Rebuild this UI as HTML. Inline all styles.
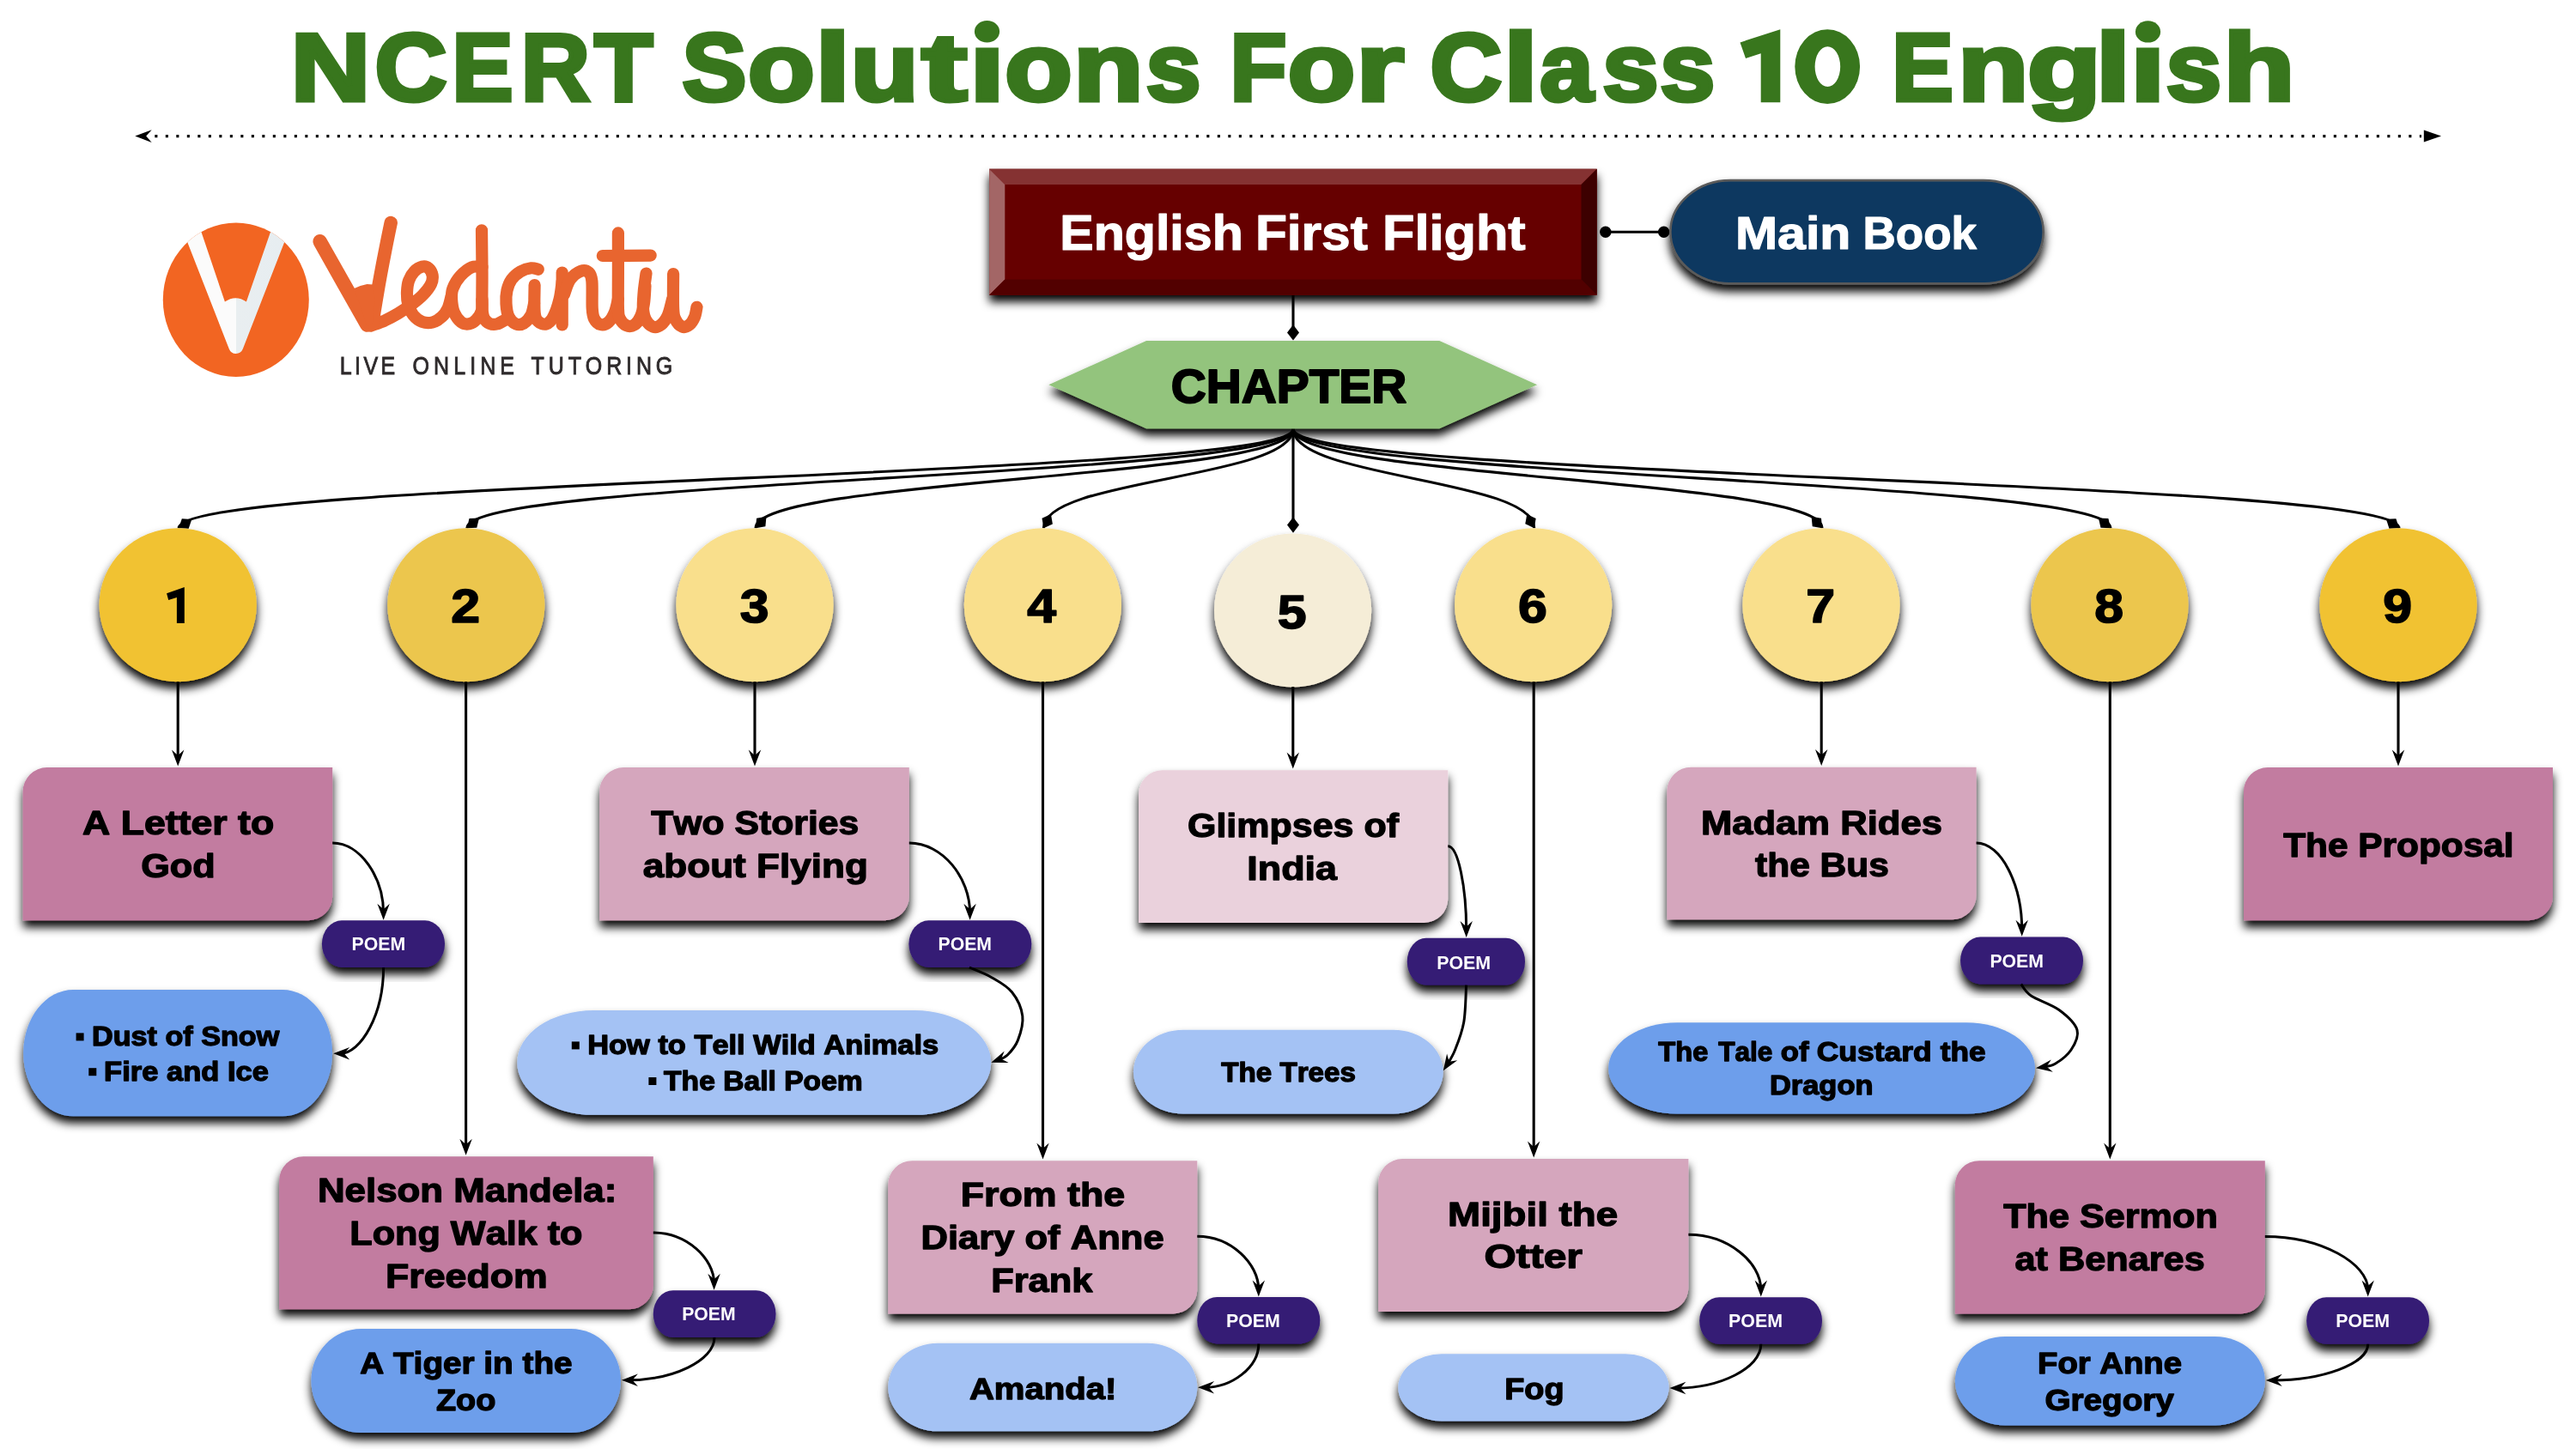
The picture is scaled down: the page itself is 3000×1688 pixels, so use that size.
<!DOCTYPE html>
<html><head><meta charset="utf-8"><title>NCERT Solutions For Class 10 English</title>
<style>html,body{margin:0;padding:0;background:#fff;} body{width:3000px;height:1688px;overflow:hidden;} svg{display:block;} text{font-family:"Liberation Sans",sans-serif;font-kerning:none;opacity:0.999;}</style>
</head><body>
<svg width="3000" height="1688" viewBox="0 0 3000 1688">
<defs>
<filter id="sh" x="-20%" y="-20%" width="140%" height="150%"><feDropShadow dx="0" dy="8" stdDeviation="5.4" flood-color="#000" flood-opacity="0.98"/></filter>
<filter id="sh2" x="-20%" y="-20%" width="140%" height="160%"><feDropShadow dx="0" dy="8" stdDeviation="5.5" flood-color="#000" flood-opacity="1"/></filter>
<clipPath id="logoclip"><ellipse cx="274.8" cy="349.2" rx="85" ry="89.7"/></clipPath>
<linearGradient id="vg" x1="0" x2="1" y1="0" y2="0"><stop offset="0" stop-color="#fbfbfb"/><stop offset="0.5" stop-color="#fbfbfb"/><stop offset="0.5" stop-color="#e9eef0"/><stop offset="1" stop-color="#e6edf1"/></linearGradient>
</defs>
<rect width="3000" height="1688" fill="#fff"/>
<text x="338.84" y="117.1" font-size="111.9" font-weight="bold" fill="#38761d" textLength="92.38" lengthAdjust="spacingAndGlyphs" stroke="#38761d" stroke-width="5.0" stroke-linejoin="miter">N</text>
<text x="436.43" y="117.1" font-size="111.9" font-weight="bold" fill="#38761d" textLength="83.95" lengthAdjust="spacingAndGlyphs" stroke="#38761d" stroke-width="5.0" stroke-linejoin="miter">C</text>
<text x="526.48" y="117.1" font-size="111.9" font-weight="bold" fill="#38761d" textLength="70.97" lengthAdjust="spacingAndGlyphs" stroke="#38761d" stroke-width="5.0" stroke-linejoin="miter">E</text>
<text x="606.87" y="117.1" font-size="111.9" font-weight="bold" fill="#38761d" textLength="80.21" lengthAdjust="spacingAndGlyphs" stroke="#38761d" stroke-width="5.0" stroke-linejoin="miter">R</text>
<text x="692.15" y="117.1" font-size="111.9" font-weight="bold" fill="#38761d" textLength="68.05" lengthAdjust="spacingAndGlyphs" stroke="#38761d" stroke-width="5.0" stroke-linejoin="miter">T</text>
<text x="794.46" y="117.1" font-size="111.9" font-weight="bold" fill="#38761d" textLength="74.92" lengthAdjust="spacingAndGlyphs" stroke="#38761d" stroke-width="5.0" stroke-linejoin="miter">S</text>
<text x="871.03" y="117.1" font-size="111.9" font-weight="bold" fill="#38761d" textLength="77.74" lengthAdjust="spacingAndGlyphs" stroke="#38761d" stroke-width="5.0" stroke-linejoin="miter">o</text>
<text x="949.52" y="117.1" font-size="111.9" font-weight="bold" fill="#38761d" textLength="40.50" lengthAdjust="spacingAndGlyphs" stroke="#38761d" stroke-width="5.0" stroke-linejoin="miter">l</text>
<text x="990.79" y="117.1" font-size="111.9" font-weight="bold" fill="#38761d" textLength="78.93" lengthAdjust="spacingAndGlyphs" stroke="#38761d" stroke-width="5.0" stroke-linejoin="miter">u</text>
<text x="1073.47" y="117.1" font-size="111.9" font-weight="bold" fill="#38761d" textLength="52.66" lengthAdjust="spacingAndGlyphs" stroke="#38761d" stroke-width="5.0" stroke-linejoin="miter">t</text>
<text x="1129.28" y="117.1" font-size="111.9" font-weight="bold" fill="#38761d" textLength="40.50" lengthAdjust="spacingAndGlyphs" stroke="#38761d" stroke-width="5.0" stroke-linejoin="miter">ı</text>
<text x="1170.38" y="117.1" font-size="111.9" font-weight="bold" fill="#38761d" textLength="78.43" lengthAdjust="spacingAndGlyphs" stroke="#38761d" stroke-width="5.0" stroke-linejoin="miter">o</text>
<text x="1250.35" y="117.1" font-size="111.9" font-weight="bold" fill="#38761d" textLength="81.08" lengthAdjust="spacingAndGlyphs" stroke="#38761d" stroke-width="5.0" stroke-linejoin="miter">n</text>
<text x="1334.45" y="117.1" font-size="111.9" font-weight="bold" fill="#38761d" textLength="64.08" lengthAdjust="spacingAndGlyphs" stroke="#38761d" stroke-width="5.0" stroke-linejoin="miter">s</text>
<text x="1432.39" y="117.1" font-size="111.9" font-weight="bold" fill="#38761d" textLength="65.86" lengthAdjust="spacingAndGlyphs" stroke="#38761d" stroke-width="5.0" stroke-linejoin="miter">F</text>
<text x="1499.78" y="117.1" font-size="111.9" font-weight="bold" fill="#38761d" textLength="78.43" lengthAdjust="spacingAndGlyphs" stroke="#38761d" stroke-width="5.0" stroke-linejoin="miter">o</text>
<text x="1579.61" y="117.1" font-size="111.9" font-weight="bold" fill="#38761d" textLength="55.45" lengthAdjust="spacingAndGlyphs" stroke="#38761d" stroke-width="5.0" stroke-linejoin="miter">r</text>
<text x="1665.45" y="117.1" font-size="111.9" font-weight="bold" fill="#38761d" textLength="83.61" lengthAdjust="spacingAndGlyphs" stroke="#38761d" stroke-width="5.0" stroke-linejoin="miter">C</text>
<text x="1751.28" y="117.1" font-size="111.9" font-weight="bold" fill="#38761d" textLength="39.49" lengthAdjust="spacingAndGlyphs" stroke="#38761d" stroke-width="5.0" stroke-linejoin="miter">l</text>
<text x="1793.22" y="117.1" font-size="111.9" font-weight="bold" fill="#38761d" textLength="62.27" lengthAdjust="spacingAndGlyphs" stroke="#38761d" stroke-width="5.0" stroke-linejoin="miter">a</text>
<text x="1866.27" y="117.1" font-size="111.9" font-weight="bold" fill="#38761d" textLength="65.35" lengthAdjust="spacingAndGlyphs" stroke="#38761d" stroke-width="5.0" stroke-linejoin="miter">s</text>
<text x="1933.25" y="117.1" font-size="111.9" font-weight="bold" fill="#38761d" textLength="64.08" lengthAdjust="spacingAndGlyphs" stroke="#38761d" stroke-width="5.0" stroke-linejoin="miter">s</text>
<text x="2203.22" y="117.1" font-size="111.9" font-weight="bold" fill="#38761d" textLength="71.57" lengthAdjust="spacingAndGlyphs" stroke="#38761d" stroke-width="5.0" stroke-linejoin="miter">E</text>
<text x="2280.35" y="117.1" font-size="111.9" font-weight="bold" fill="#38761d" textLength="81.97" lengthAdjust="spacingAndGlyphs" stroke="#38761d" stroke-width="5.0" stroke-linejoin="miter">n</text>
<text x="2361.03" y="117.1" font-size="111.9" font-weight="bold" fill="#38761d" textLength="85.87" lengthAdjust="spacingAndGlyphs" stroke="#38761d" stroke-width="5.0" stroke-linejoin="miter">g</text>
<text x="2440.87" y="117.1" font-size="111.9" font-weight="bold" fill="#38761d" textLength="40.30" lengthAdjust="spacingAndGlyphs" stroke="#38761d" stroke-width="5.0" stroke-linejoin="miter">l</text>
<text x="2481.13" y="117.1" font-size="111.9" font-weight="bold" fill="#38761d" textLength="40.30" lengthAdjust="spacingAndGlyphs" stroke="#38761d" stroke-width="5.0" stroke-linejoin="miter">ı</text>
<text x="2522.61" y="117.1" font-size="111.9" font-weight="bold" fill="#38761d" textLength="64.66" lengthAdjust="spacingAndGlyphs" stroke="#38761d" stroke-width="5.0" stroke-linejoin="miter">s</text>
<text x="2589.64" y="117.1" font-size="111.9" font-weight="bold" fill="#38761d" textLength="82.76" lengthAdjust="spacingAndGlyphs" stroke="#38761d" stroke-width="5.0" stroke-linejoin="miter">h</text>
<ellipse cx="1149.5" cy="36.7" rx="14.6" ry="12.7" fill="#38761d"/><ellipse cx="2501.5" cy="36.9" rx="14.6" ry="12.7" fill="#38761d"/>
<polygon points="2073.3,34.2 2073.3,119.2 2050.7,119.2 2050.7,62.2 2033,68 2026.5,49.4" fill="#38761d"/>
<path fill-rule="evenodd" fill="#38761d" d="M2090.3,77.6 a37.9,43.4 0 1 0 75.8,0 a37.9,43.4 0 1 0 -75.8,0 Z M2113.6,77.6 a14.8,23.4 0 1 0 29.6,0 a14.8,23.4 0 1 0 -29.6,0 Z"/>
<line x1="180.3" y1="158.6" x2="2820" y2="158.6" stroke="#000" stroke-width="3.1" stroke-dasharray="3.1 9.4"/>
<path d="M157.3,158.6 L176.7,151.3 L170.2,158.6 L176.7,165.9 Z" fill="#000"/>
<path d="M2843,158.6 L2822.8,151.6 L2822.8,165.6 Z" fill="#000"/>
<ellipse cx="274.8" cy="349.2" rx="85" ry="89.7" fill="#f26522"/>
<g clip-path="url(#logoclip)">
<path d="M202.2,241 L221,230.4 L261.9,351.6 Q274.5,343 286.9,351.6 L328.8,230.4 L346.9,241.8 L282.8,406.5 A8.6,8.6 0 0 1 266.8,406.4 Z" fill="url(#vg)"/>
</g>
<g fill="none" stroke="#e8652f" stroke-width="14.2" stroke-linecap="round" stroke-linejoin="round">
<path d="M431.6,379.6 C434.4,378.5 442.8,375.8 448.2,373.4 C453.5,370.9 458.5,368.2 463.7,365.1 C468.9,362.0 474.4,358.4 479.2,354.7 C484.1,351.1 488.9,347.3 492.7,343.3 C496.5,339.4 500.2,334.7 502.0,330.9 C503.8,327.1 504.1,323.7 503.6,320.6 C503.0,317.5 500.9,313.9 498.9,312.3 C496.9,310.6 494.4,310.0 491.6,310.7 C488.9,311.4 484.9,313.8 482.3,316.4 C479.7,319.1 477.5,322.8 476.1,326.8 C474.7,330.7 474.2,335.8 474.0,340.2 C473.9,344.7 473.9,349.2 475.1,353.7 C476.3,358.2 478.5,363.6 481.3,367.2 C484.1,370.7 487.9,373.5 491.6,374.9 C495.4,376.3 500.3,376.4 504.1,375.4 C507.9,374.5 511.5,372.0 514.4,369.2 C517.4,366.5 519.8,363.0 521.7,358.9 C523.6,354.7 525.1,346.8 525.8,344.4"/>
<path d="M561.5,311.3 C559.5,311.3 553.8,309.5 549.6,311.3 C545.4,313.0 539.9,317.5 536.2,321.6 C532.4,325.7 529.1,331.6 527.4,336.1 C525.7,340.6 525.8,343.9 526.0,348.5 C526.3,353.2 527.0,359.6 528.9,364.0 C530.8,368.5 534.3,373.2 537.2,375.4 C540.1,377.6 543.6,377.8 546.5,377.3 C549.4,376.8 552.4,374.9 554.8,372.3 C557.2,369.8 559.9,365.9 561.0,362.0 C562.1,358.0 561.4,350.8 561.5,348.5"/>
<path d="M561.0,268.3 C561.1,276.5 561.4,302.4 561.5,317.5 C561.6,332.6 561.1,349.9 561.5,358.9 C562.0,367.8 562.6,368.3 564.1,371.3 C565.6,374.3 567.9,376.0 570.3,377.0 C572.7,378.0 575.5,378.3 578.6,377.5 C581.7,376.7 587.2,373.2 589.0,372.3"/>
<path d="M626.8,313.8 C625.4,313.6 621.9,311.9 618.5,312.3 C615.0,312.7 609.9,314.2 606.1,316.4 C602.3,318.7 598.3,322.1 595.7,325.7 C593.1,329.4 591.6,333.5 590.5,338.2 C589.5,342.8 589.1,348.5 589.5,353.7 C589.8,358.9 590.7,365.3 592.6,369.2 C594.5,373.2 597.9,376.3 600.9,377.5 C603.8,378.7 607.3,378.2 610.2,376.5 C613.1,374.7 616.5,370.9 618.5,367.2 C620.5,363.4 621.5,355.9 622.1,353.7"/>
<path d="M622.6,332.0 C622.6,337.3 621.9,357.0 622.6,364.0 C623.3,371.1 624.5,372.2 626.8,374.4 C629.0,376.6 633.1,378.4 636.1,377.5 C639.0,376.6 641.8,374.1 644.4,369.2 C646.9,364.4 649.9,355.4 651.6,348.5 C653.3,341.6 654.2,331.3 654.7,327.8"/>
<path d="M654.7,317.5 C654.7,327.6 654.7,368.4 654.7,378.5"/>
<path d="M656.8,343.3 C658.0,340.4 660.7,330.3 664.0,325.7 C667.3,321.2 672.8,317.3 676.4,315.9 C680.1,314.5 683.6,315.5 685.8,317.5 C687.9,319.4 688.7,320.9 689.4,327.8 C690.0,334.7 689.3,351.6 689.7,358.9 C690.1,366.1 690.4,368.1 692.0,371.3 C693.6,374.5 696.5,377.3 699.2,378.0 C702.0,378.7 705.8,377.8 708.5,375.4 C711.3,373.1 713.9,368.5 715.8,364.0 C717.7,359.6 719.2,351.1 719.9,348.5"/>
<path d="M719.9,271.4 C719.9,279.1 719.9,302.9 719.9,317.5 C719.9,332.0 719.6,349.9 719.9,358.9 C720.3,367.8 720.4,367.9 722.0,371.3 C723.6,374.7 726.5,377.9 729.2,379.1 C732.0,380.3 735.8,380.2 738.6,378.5 C741.3,376.9 743.9,373.4 745.8,369.2 C747.7,365.1 749.0,359.7 749.9,353.7 C750.9,347.7 751.2,336.4 751.5,333.0"/>
<path d="M701.8,298.0 C711.1,297.9 748.4,297.7 757.7,297.6"/>
<path d="M752.5,318.5 C752.1,321.8 750.6,331.4 749.9,338.2 C749.3,344.9 748.6,353.2 748.9,358.9 C749.3,364.6 750.1,368.7 752.0,372.3 C753.9,376.0 757.4,379.6 760.3,380.6 C763.2,381.6 766.7,380.8 769.6,378.5 C772.6,376.3 775.7,372.2 777.9,367.2 C780.1,362.1 782.2,351.6 783.1,348.5"/>
<path d="M784.1,319.0 C784.1,325.7 783.7,350.0 784.1,358.9 C784.5,367.8 785.0,368.7 786.7,372.3 C788.4,376.0 791.8,379.6 794.5,380.6 C797.1,381.6 800.3,380.4 802.7,378.5 C805.2,376.6 807.5,372.7 809.0,369.2 C810.4,365.8 811.1,359.7 811.5,357.8"/>
<path d="M372.6,281.2 C381.7,297.4 418.3,362.3 427.5,378.5" stroke-width="16.5"/>
<path d="M455.2,259.5 C453.9,265.7 450.0,284.7 447.7,296.8 C445.3,308.8 443.5,318.7 441.1,332.0 C438.8,345.2 434.9,369.1 433.7,376.5" stroke-width="15.5"/>
</g>
<path d="M412.5,336.1 Q419.2,332.5 427.5,331.1 L434.2,331.4 L436.8,348.5 L433.7,378.5 L427.5,379.6 Z" fill="#e8652f"/>
<text opacity="0.999" transform="scale(0.84,1)" x="471.19" y="436.3" font-size="29.8" font-weight="normal" fill="#2e2a2b" letter-spacing="4.03" stroke="#2e2a2b" stroke-width="0.9">LIVE</text>
<text opacity="0.999" transform="scale(0.84,1)" x="571.98" y="436.3" font-size="29.8" font-weight="normal" fill="#2e2a2b" letter-spacing="6.06" stroke="#2e2a2b" stroke-width="0.9">ONLINE</text>
<text opacity="0.999" transform="scale(0.84,1)" x="736.41" y="436.3" font-size="29.8" font-weight="normal" fill="#2e2a2b" letter-spacing="5.80" stroke="#2e2a2b" stroke-width="0.9">TUTORING</text>
<g fill="none" stroke="#000" stroke-width="3.1">
<path d="M1506,499.5 C1506,557.4 208.2,557.4 208.2,615.2"/>
<path d="M1506,499.5 C1506,557.4 543.8,557.4 543.8,615.2"/>
<path d="M1506,499.5 C1506,557.4 880.0,557.4 880.0,615.2"/>
<path d="M1506,499.5 C1506,557.4 1215.4,557.4 1215.4,615.2"/>
<line x1="1506" y1="499.5" x2="1506" y2="609.5"/>
<path d="M1506,499.5 C1506,557.4 1786.7,557.4 1786.7,615.2"/>
<path d="M1506,499.5 C1506,557.4 2122.0,557.4 2122.0,615.2"/>
<path d="M1506,499.5 C1506,557.4 2458.0,557.4 2458.0,615.2"/>
<path d="M1506,499.5 C1506,557.4 2794.0,557.4 2794.0,615.2"/>
</g>
<polygon points="208.2,615.2 219.7,615.8 223.3,604.9 211.8,604.3" fill="#000"/>
<polygon points="543.8,615.2 555.3,614.8 558.0,603.6 546.5,604.0" fill="#000"/>
<polygon points="880.0,615.2 891.4,613.3 892.5,601.8 881.1,603.7" fill="#000"/>
<polygon points="1215.4,615.2 1225.9,610.4 1223.9,599.0 1213.5,603.8" fill="#000"/>
<polygon points="1506.0,620.7 1513.0,611.6 1506.0,602.4 1499.0,611.6" fill="#000"/>
<polygon points="1786.7,615.2 1788.7,603.9 1778.3,599.0 1776.3,610.3" fill="#000"/>
<polygon points="2122.0,615.2 2121.0,603.7 2109.6,601.7 2110.7,613.2" fill="#000"/>
<polygon points="2458.0,615.2 2455.4,604.0 2443.9,603.5 2446.5,614.8" fill="#000"/>
<polygon points="2794.0,615.2 2790.4,604.2 2778.9,604.8 2782.5,615.8" fill="#000"/>
<line x1="1506" y1="343" x2="1506" y2="385" stroke="#000" stroke-width="3.1"/>
<polygon points="1506.0,396.6 1513.0,387.5 1506.0,378.3 1499.0,387.5" fill="#000"/>
<line x1="1870" y1="270.3" x2="1938" y2="270.3" stroke="#000" stroke-width="3.1"/>
<circle cx="1869.8" cy="270.2" r="6.7" fill="#000"/><circle cx="1937.7" cy="270.2" r="6.7" fill="#000"/>
<g filter="url(#sh2)"><rect x="1152.1" y="196.8" width="707.6000000000001" height="146.89999999999998" fill="#660000"/></g>
<polygon points="1152.1,196.8 1859.7,196.8 1841.5,215.0 1170.3,215.0" fill="#853232"/>
<polygon points="1152.1,196.8 1170.3,215.0 1170.3,325.5 1152.1,343.7" fill="#a36666"/>
<polygon points="1152.1,343.7 1170.3,325.5 1841.5,325.5 1859.7,343.7" fill="#520000"/>
<polygon points="1859.7,196.8 1859.7,343.7 1841.5,325.5 1841.5,215.0" fill="#3d0000"/>
<text x="1234.24" y="291.1" font-size="56.8" font-weight="bold" fill="#fff" textLength="213.52" lengthAdjust="spacingAndGlyphs" stroke="#fff" stroke-width="1.2" stroke-linejoin="round">English</text>
<text x="1461.96" y="291.1" font-size="56.8" font-weight="bold" fill="#fff" textLength="130.88" lengthAdjust="spacingAndGlyphs" stroke="#fff" stroke-width="1.2" stroke-linejoin="round">First</text>
<text x="1610.10" y="291.1" font-size="56.8" font-weight="bold" fill="#fff" textLength="166.64" lengthAdjust="spacingAndGlyphs" stroke="#fff" stroke-width="1.2" stroke-linejoin="round">Flight</text>
<g filter="url(#sh)"><rect x="1945.4" y="210.1" width="434.3" height="120.3" rx="70" ry="60.1" fill="#0a3761" stroke="#5a5a5a" stroke-width="2.6"/></g>
<text x="2020.95" y="289.8" font-size="54.0" font-weight="bold" fill="#fff" textLength="134.41" lengthAdjust="spacingAndGlyphs" stroke="#fff" stroke-width="1.2" stroke-linejoin="round">Main</text>
<text x="2169.55" y="289.8" font-size="54.0" font-weight="bold" fill="#fff" textLength="132.49" lengthAdjust="spacingAndGlyphs" stroke="#fff" stroke-width="1.2" stroke-linejoin="round">Book</text>
<g filter="url(#sh)"><polygon points="1221.3,448.2 1335,397 1676.4,397 1790.1,448.2 1676.4,499.3 1335,499.3" fill="#93c47d"/></g>
<text x="1363.67" y="469.0" font-size="55.7" font-weight="bold" fill="#000" textLength="274.60" lengthAdjust="spacingAndGlyphs" stroke="#000" stroke-width="2" stroke-linejoin="round">CHAPTER</text>
<g filter="url(#sh)"><ellipse cx="207.2" cy="704.7" rx="91.6" ry="89.5" fill="#f1c232"/></g>
<polygon points="214.8,684.0 214.8,726.0 205.9,726.0 205.9,696.1 196.2,699.0 194.1,691.3" fill="#000"/>
<g filter="url(#sh)"><ellipse cx="542.8" cy="704.7" rx="91.6" ry="89.5" fill="#ecc64e"/></g>
<text x="525.25" y="725.2" font-size="55.3" font-weight="bold" fill="#000" textLength="33.83" lengthAdjust="spacingAndGlyphs" stroke="#000" stroke-width="1.6" stroke-linejoin="round">2</text>
<g filter="url(#sh)"><ellipse cx="879" cy="704.7" rx="91.6" ry="89.5" fill="#f9df8c"/></g>
<text x="861.69" y="725.2" font-size="55.3" font-weight="bold" fill="#000" textLength="33.83" lengthAdjust="spacingAndGlyphs" stroke="#000" stroke-width="1.6" stroke-linejoin="round">3</text>
<g filter="url(#sh)"><ellipse cx="1214.4" cy="704.7" rx="91.6" ry="89.5" fill="#f9df8c"/></g>
<text x="1196.39" y="725.2" font-size="55.3" font-weight="bold" fill="#000" textLength="33.83" lengthAdjust="spacingAndGlyphs" stroke="#000" stroke-width="1.6" stroke-linejoin="round">4</text>
<g filter="url(#sh)"><ellipse cx="1505.6" cy="711" rx="91.6" ry="89.5" fill="#f5edd7"/></g>
<text x="1487.80" y="731.5" font-size="55.3" font-weight="bold" fill="#000" textLength="33.83" lengthAdjust="spacingAndGlyphs" stroke="#000" stroke-width="1.6" stroke-linejoin="round">5</text>
<g filter="url(#sh)"><ellipse cx="1785.7" cy="704.7" rx="91.6" ry="89.5" fill="#f9df8c"/></g>
<text x="1767.97" y="725.2" font-size="55.3" font-weight="bold" fill="#000" textLength="33.83" lengthAdjust="spacingAndGlyphs" stroke="#000" stroke-width="1.6" stroke-linejoin="round">6</text>
<g filter="url(#sh)"><ellipse cx="2121" cy="704.7" rx="91.6" ry="89.5" fill="#f9df8c"/></g>
<text x="2103.31" y="725.2" font-size="55.3" font-weight="bold" fill="#000" textLength="33.83" lengthAdjust="spacingAndGlyphs" stroke="#000" stroke-width="1.6" stroke-linejoin="round">7</text>
<g filter="url(#sh)"><ellipse cx="2457" cy="704.7" rx="91.6" ry="89.5" fill="#ecc64e"/></g>
<text x="2439.25" y="725.2" font-size="55.3" font-weight="bold" fill="#000" textLength="33.83" lengthAdjust="spacingAndGlyphs" stroke="#000" stroke-width="1.6" stroke-linejoin="round">8</text>
<g filter="url(#sh)"><ellipse cx="2793" cy="704.7" rx="91.6" ry="89.5" fill="#f1c232"/></g>
<text x="2775.36" y="725.2" font-size="55.3" font-weight="bold" fill="#000" textLength="33.83" lengthAdjust="spacingAndGlyphs" stroke="#000" stroke-width="1.6" stroke-linejoin="round">9</text>
<line x1="207.2" y1="794" x2="207.2" y2="884.5" stroke="#000" stroke-width="3.1"/>
<path d="M207.2,892.5 L200.0,873.5 L207.2,880.0 L214.39999999999998,873.5 Z" fill="#000"/>
<line x1="879" y1="794" x2="879" y2="884.5" stroke="#000" stroke-width="3.1"/>
<path d="M879,892.5 L871.8,873.5 L879,880.0 L886.2,873.5 Z" fill="#000"/>
<line x1="1505.8" y1="800" x2="1505.8" y2="887.5" stroke="#000" stroke-width="3.1"/>
<path d="M1505.8,895.5 L1498.6,876.5 L1505.8,883.0 L1513.0,876.5 Z" fill="#000"/>
<line x1="2121.2" y1="794" x2="2121.2" y2="884" stroke="#000" stroke-width="3.1"/>
<path d="M2121.2,892 L2114.0,873 L2121.2,879.5 L2128.3999999999996,873 Z" fill="#000"/>
<line x1="2793" y1="794" x2="2793" y2="884.5" stroke="#000" stroke-width="3.1"/>
<path d="M2793,892.5 L2785.8,873.5 L2793,880.0 L2800.2,873.5 Z" fill="#000"/>
<line x1="542.6" y1="794" x2="542.6" y2="1337.7" stroke="#000" stroke-width="3.1"/>
<path d="M542.6,1345.7 L535.4,1326.7 L542.6,1333.2 L549.8000000000001,1326.7 Z" fill="#000"/>
<line x1="1214.5" y1="794" x2="1214.5" y2="1342.5" stroke="#000" stroke-width="3.1"/>
<path d="M1214.5,1350.5 L1207.3,1331.5 L1214.5,1338.0 L1221.7,1331.5 Z" fill="#000"/>
<line x1="1786.2" y1="794" x2="1786.2" y2="1340.5" stroke="#000" stroke-width="3.1"/>
<path d="M1786.2,1348.5 L1779.0,1329.5 L1786.2,1336.0 L1793.4,1329.5 Z" fill="#000"/>
<line x1="2457.3" y1="794" x2="2457.3" y2="1342.5" stroke="#000" stroke-width="3.1"/>
<path d="M2457.3,1350.5 L2450.1000000000004,1331.5 L2457.3,1338.0 L2464.5,1331.5 Z" fill="#000"/>
<g filter="url(#sh)"><path d="M54.7,894 L387.2,894 L387.2,1044.2 A28,28 0 0 1 359.2,1072.2 L26.7,1072.2 L26.7,922 A28,28 0 0 1 54.7,894 Z" fill="#c27ba0"/></g>
<text x="96.04" y="972.2" font-size="39.6" font-weight="bold" fill="#000" textLength="223.15" lengthAdjust="spacingAndGlyphs" stroke="#000" stroke-width="1.3" stroke-linejoin="round">A Letter to</text>
<text x="164.18" y="1021.7" font-size="39.6" font-weight="bold" fill="#000" textLength="86.53" lengthAdjust="spacingAndGlyphs" stroke="#000" stroke-width="1.3" stroke-linejoin="round">God</text>
<g filter="url(#sh)"><path d="M726.2,894 L1058.8,894 L1058.8,1044.2 A28,28 0 0 1 1030.8,1072.2 L698.2,1072.2 L698.2,922 A28,28 0 0 1 726.2,894 Z" fill="#d5a6bd"/></g>
<text x="758.17" y="972.2" font-size="39.6" font-weight="bold" fill="#000" textLength="242.13" lengthAdjust="spacingAndGlyphs" stroke="#000" stroke-width="1.3" stroke-linejoin="round">Two Stories</text>
<text x="748.76" y="1021.7" font-size="39.6" font-weight="bold" fill="#000" textLength="262.14" lengthAdjust="spacingAndGlyphs" stroke="#000" stroke-width="1.3" stroke-linejoin="round">about Flying</text>
<g filter="url(#sh)"><path d="M1354,897.2 L1686.3,897.2 L1686.3,1047 A28,28 0 0 1 1658.3,1075 L1326,1075 L1326,925.2 A28,28 0 0 1 1354,897.2 Z" fill="#ead1dc"/></g>
<text x="1382.99" y="974.5" font-size="39.6" font-weight="bold" fill="#000" textLength="245.98" lengthAdjust="spacingAndGlyphs" stroke="#000" stroke-width="1.3" stroke-linejoin="round">Glimpses of</text>
<text x="1452.25" y="1024.6" font-size="39.6" font-weight="bold" fill="#000" textLength="104.72" lengthAdjust="spacingAndGlyphs" stroke="#000" stroke-width="1.3" stroke-linejoin="round">India</text>
<g filter="url(#sh)"><path d="M1969.4,893.7 L2301.6,893.7 L2301.6,1043.3 A28,28 0 0 1 2273.6,1071.3 L1941.4,1071.3 L1941.4,921.7 A28,28 0 0 1 1969.4,893.7 Z" fill="#d5a6bd"/></g>
<text x="1980.93" y="971.5" font-size="39.6" font-weight="bold" fill="#000" textLength="281.00" lengthAdjust="spacingAndGlyphs" stroke="#000" stroke-width="1.3" stroke-linejoin="round">Madam Rides</text>
<text x="2044.03" y="1021.2" font-size="39.6" font-weight="bold" fill="#000" textLength="155.96" lengthAdjust="spacingAndGlyphs" stroke="#000" stroke-width="1.3" stroke-linejoin="round">the Bus</text>
<g filter="url(#sh)"><path d="M2641,894 L2973,894 L2973,1044.2 A28,28 0 0 1 2945,1072.2 L2613,1072.2 L2613,922 A28,28 0 0 1 2641,894 Z" fill="#c27ba0"/></g>
<text x="2659.17" y="997.8" font-size="39.6" font-weight="bold" fill="#000" textLength="268.48" lengthAdjust="spacingAndGlyphs" stroke="#000" stroke-width="1.3" stroke-linejoin="round">The Proposal</text>
<g filter="url(#sh)"><path d="M353.2,1347.3 L760.8,1347.3 L760.8,1497.3 A28,28 0 0 1 732.8,1525.3 L325.2,1525.3 L325.2,1375.3 A28,28 0 0 1 353.2,1347.3 Z" fill="#c27ba0"/></g>
<text x="369.92" y="1400.1" font-size="39.6" font-weight="bold" fill="#000" textLength="348.45" lengthAdjust="spacingAndGlyphs" stroke="#000" stroke-width="1.3" stroke-linejoin="round">Nelson Mandela:</text>
<text x="407.26" y="1449.6" font-size="39.6" font-weight="bold" fill="#000" textLength="271.28" lengthAdjust="spacingAndGlyphs" stroke="#000" stroke-width="1.3" stroke-linejoin="round">Long Walk to</text>
<text x="449.06" y="1500.0" font-size="39.6" font-weight="bold" fill="#000" textLength="188.66" lengthAdjust="spacingAndGlyphs" stroke="#000" stroke-width="1.3" stroke-linejoin="round">Freedom</text>
<g filter="url(#sh)"><path d="M1062.3,1352.2 L1394.3,1352.2 L1394.3,1502.4 A28,28 0 0 1 1366.3,1530.4 L1034.3,1530.4 L1034.3,1380.2 A28,28 0 0 1 1062.3,1352.2 Z" fill="#d5a6bd"/></g>
<text x="1118.76" y="1405.1" font-size="39.6" font-weight="bold" fill="#000" textLength="191.42" lengthAdjust="spacingAndGlyphs" stroke="#000" stroke-width="1.3" stroke-linejoin="round">From the</text>
<text x="1072.44" y="1454.7" font-size="39.6" font-weight="bold" fill="#000" textLength="283.20" lengthAdjust="spacingAndGlyphs" stroke="#000" stroke-width="1.3" stroke-linejoin="round">Diary of Anne</text>
<text x="1154.15" y="1504.6" font-size="39.6" font-weight="bold" fill="#000" textLength="118.16" lengthAdjust="spacingAndGlyphs" stroke="#000" stroke-width="1.3" stroke-linejoin="round">Frank</text>
<g filter="url(#sh)"><path d="M1633.2,1350 L1966.4,1350 L1966.4,1500 A28,28 0 0 1 1938.4,1528 L1605.2,1528 L1605.2,1378 A28,28 0 0 1 1633.2,1350 Z" fill="#d5a6bd"/></g>
<text x="1686.09" y="1428.0" font-size="39.6" font-weight="bold" fill="#000" textLength="198.12" lengthAdjust="spacingAndGlyphs" stroke="#000" stroke-width="1.3" stroke-linejoin="round">Mijbil the</text>
<text x="1728.59" y="1477.4" font-size="39.6" font-weight="bold" fill="#000" textLength="114.39" lengthAdjust="spacingAndGlyphs" stroke="#000" stroke-width="1.3" stroke-linejoin="round">Otter</text>
<g filter="url(#sh)"><path d="M2304.9,1352.2 L2637.8,1352.2 L2637.8,1502.4 A28,28 0 0 1 2609.8,1530.4 L2276.9,1530.4 L2276.9,1380.2 A28,28 0 0 1 2304.9,1352.2 Z" fill="#c27ba0"/></g>
<text x="2333.16" y="1430.3" font-size="39.6" font-weight="bold" fill="#000" textLength="249.66" lengthAdjust="spacingAndGlyphs" stroke="#000" stroke-width="1.3" stroke-linejoin="round">The Sermon</text>
<text x="2346.48" y="1479.9" font-size="39.6" font-weight="bold" fill="#000" textLength="221.24" lengthAdjust="spacingAndGlyphs" stroke="#000" stroke-width="1.3" stroke-linejoin="round">at Benares</text>
<g filter="url(#sh)"><rect x="374.9" y="1072.3" width="143.10000000000002" height="54.600000000000136" rx="23.0" ry="27.3" fill="#351c75"/></g>
<text x="409.48" y="1107.3" font-size="22.8" font-weight="bold" fill="#fff" textLength="62.65" lengthAdjust="spacingAndGlyphs">POEM</text>
<g filter="url(#sh)"><rect x="1058.4" y="1072.3" width="142.89999999999986" height="54.600000000000136" rx="23.0" ry="27.3" fill="#351c75"/></g>
<text x="1092.58" y="1107.3" font-size="22.8" font-weight="bold" fill="#fff" textLength="62.44" lengthAdjust="spacingAndGlyphs">POEM</text>
<g filter="url(#sh)"><rect x="1638.8" y="1092.7" width="137.20000000000005" height="54.899999999999864" rx="22.1" ry="27.4" fill="#351c75"/></g>
<text x="1673.17" y="1128.9" font-size="22.8" font-weight="bold" fill="#fff" textLength="62.96" lengthAdjust="spacingAndGlyphs">POEM</text>
<g filter="url(#sh)"><rect x="2283.1" y="1091.6" width="142.9000000000001" height="54.80000000000018" rx="23.0" ry="27.4" fill="#351c75"/></g>
<text x="2317.38" y="1126.7" font-size="22.8" font-weight="bold" fill="#fff" textLength="62.65" lengthAdjust="spacingAndGlyphs">POEM</text>
<g filter="url(#sh)"><rect x="760.8" y="1503.2" width="142.70000000000005" height="54.899999999999864" rx="23.0" ry="27.4" fill="#351c75"/></g>
<text x="794.18" y="1537.7" font-size="22.8" font-weight="bold" fill="#fff" textLength="62.54" lengthAdjust="spacingAndGlyphs">POEM</text>
<g filter="url(#sh)"><rect x="1394.3" y="1510.9" width="143.0" height="54.5" rx="23.0" ry="27.2" fill="#351c75"/></g>
<text x="1427.97" y="1546.0" font-size="22.8" font-weight="bold" fill="#fff" textLength="62.96" lengthAdjust="spacingAndGlyphs">POEM</text>
<g filter="url(#sh)"><rect x="1979.2" y="1511.2" width="142.79999999999995" height="54.59999999999991" rx="23.0" ry="27.3" fill="#351c75"/></g>
<text x="2013.07" y="1546.0" font-size="22.8" font-weight="bold" fill="#fff" textLength="62.96" lengthAdjust="spacingAndGlyphs">POEM</text>
<g filter="url(#sh)"><rect x="2686.2" y="1511.2" width="142.80000000000018" height="54.59999999999991" rx="23.0" ry="27.3" fill="#351c75"/></g>
<text x="2720.17" y="1546.0" font-size="22.8" font-weight="bold" fill="#fff" textLength="62.86" lengthAdjust="spacingAndGlyphs">POEM</text>
<g filter="url(#sh)"><rect x="27.2" y="1153" width="359.90000000000003" height="147.29999999999995" rx="57.9" ry="73.6" fill="#6d9eeb"/></g>
<rect x="88.6" y="1203.4" width="9.0" height="9.0" fill="#000"/>
<text x="107.06" y="1218.0" font-size="31.0" font-weight="bold" fill="#000" textLength="218.22" lengthAdjust="spacingAndGlyphs" stroke="#000" stroke-width="1.3" stroke-linejoin="round">Dust of Snow</text>
<rect x="103.3" y="1244.2" width="9.0" height="9.0" fill="#000"/>
<text x="121.14" y="1259.0" font-size="31.0" font-weight="bold" fill="#000" textLength="191.89" lengthAdjust="spacingAndGlyphs" stroke="#000" stroke-width="1.3" stroke-linejoin="round">Fire and Ice</text>
<g filter="url(#sh)"><rect x="602.3" y="1177" width="551.9000000000001" height="121.79999999999995" rx="88.8" ry="60.9" fill="#a4c2f4"/></g>
<rect x="665.8" y="1213.4" width="9.0" height="9.0" fill="#000"/>
<text x="684.25" y="1228.2" font-size="31.0" font-weight="bold" fill="#000" textLength="408.91" lengthAdjust="spacingAndGlyphs" stroke="#000" stroke-width="1.3" stroke-linejoin="round">How to Tell Wild Animals</text>
<rect x="755.4" y="1255.0" width="9.0" height="9.0" fill="#000"/>
<text x="773.07" y="1269.8" font-size="31.0" font-weight="bold" fill="#000" textLength="231.66" lengthAdjust="spacingAndGlyphs" stroke="#000" stroke-width="1.3" stroke-linejoin="round">The Ball Poem</text>
<g filter="url(#sh)"><rect x="1320" y="1199.7" width="360.70000000000005" height="97.79999999999995" rx="58.0" ry="48.9" fill="#a4c2f4"/></g>
<text x="1422.28" y="1259.6" font-size="31.0" font-weight="bold" fill="#000" textLength="156.63" lengthAdjust="spacingAndGlyphs" stroke="#000" stroke-width="1.3" stroke-linejoin="round">The Trees</text>
<g filter="url(#sh)"><rect x="1873.2" y="1191.3" width="496.79999999999995" height="106.20000000000005" rx="79.9" ry="53.1" fill="#6d9eeb"/></g>
<text x="1931.38" y="1235.5" font-size="31.0" font-weight="bold" fill="#000" textLength="57.98" lengthAdjust="spacingAndGlyphs" stroke="#000" stroke-width="1.3" stroke-linejoin="round">The</text>
<text x="2001.20" y="1235.5" font-size="31.0" font-weight="bold" fill="#000" textLength="63.13" lengthAdjust="spacingAndGlyphs" stroke="#000" stroke-width="1.3" stroke-linejoin="round">Tale</text>
<text x="2073.80" y="1235.5" font-size="31.0" font-weight="bold" fill="#000" textLength="32.69" lengthAdjust="spacingAndGlyphs" stroke="#000" stroke-width="1.3" stroke-linejoin="round">of</text>
<text x="2115.80" y="1235.5" font-size="31.0" font-weight="bold" fill="#000" textLength="133.79" lengthAdjust="spacingAndGlyphs" stroke="#000" stroke-width="1.3" stroke-linejoin="round">Custard</text>
<text x="2259.82" y="1235.5" font-size="31.0" font-weight="bold" fill="#000" textLength="52.83" lengthAdjust="spacingAndGlyphs" stroke="#000" stroke-width="1.3" stroke-linejoin="round">the</text>
<text x="2060.95" y="1275.1" font-size="31.0" font-weight="bold" fill="#000" textLength="120.54" lengthAdjust="spacingAndGlyphs" stroke="#000" stroke-width="1.3" stroke-linejoin="round">Dragon</text>
<g filter="url(#sh)"><rect x="362.4" y="1548" width="360.6" height="121" rx="58.0" ry="60.5" fill="#6d9eeb"/></g>
<text x="419.29" y="1600.4" font-size="34.9" font-weight="bold" fill="#000" textLength="247.29" lengthAdjust="spacingAndGlyphs" stroke="#000" stroke-width="1.3" stroke-linejoin="round">A Tiger in the</text>
<text x="507.92" y="1643.4" font-size="34.9" font-weight="bold" fill="#000" textLength="69.51" lengthAdjust="spacingAndGlyphs" stroke="#000" stroke-width="1.3" stroke-linejoin="round">Zoo</text>
<g filter="url(#sh)"><rect x="1034.3" y="1564.8" width="360.0" height="102.5" rx="57.9" ry="51.2" fill="#a4c2f4"/></g>
<text x="1128.95" y="1630.4" font-size="34.9" font-weight="bold" fill="#000" textLength="171.41" lengthAdjust="spacingAndGlyphs" stroke="#000" stroke-width="1.3" stroke-linejoin="round">Amanda!</text>
<g filter="url(#sh)"><rect x="1628.3" y="1577.2" width="315.29999999999995" height="78.39999999999986" rx="50.7" ry="39.2" fill="#a4c2f4"/></g>
<text x="1752.22" y="1630.2" font-size="34.9" font-weight="bold" fill="#000" textLength="69.36" lengthAdjust="spacingAndGlyphs" stroke="#000" stroke-width="1.3" stroke-linejoin="round">Fog</text>
<g filter="url(#sh)"><rect x="2276.9" y="1557.1" width="360.9000000000001" height="103.30000000000018" rx="58.1" ry="51.7" fill="#6d9eeb"/></g>
<text x="2372.99" y="1600.4" font-size="34.9" font-weight="bold" fill="#000" textLength="168.07" lengthAdjust="spacingAndGlyphs" stroke="#000" stroke-width="1.3" stroke-linejoin="round">For Anne</text>
<text x="2381.46" y="1642.6" font-size="34.9" font-weight="bold" fill="#000" textLength="150.39" lengthAdjust="spacingAndGlyphs" stroke="#000" stroke-width="1.3" stroke-linejoin="round">Gregory</text>
<path d="M387.2,982 C419.9,982 446.6,1022.4 446.6,1063.8" fill="none" stroke="#000" stroke-width="3.0"/>
<polygon points="446.6,1071.8 439.4,1052.8 446.6,1059.3 453.8,1052.8" fill="#000"/>
<path d="M446.6,1126.9 C446.6,1182.1 420.3,1227.3 396.2,1227.3" fill="none" stroke="#000" stroke-width="3.0"/>
<polygon points="388.2,1227.3 407.2,1220.1 400.7,1227.3 407.2,1234.5" fill="#000"/>
<path d="M1058.8,982 C1097.7,982 1129.6,1022.4 1129.6,1063.8" fill="none" stroke="#000" stroke-width="3.0"/>
<polygon points="1129.6,1071.8 1122.4,1052.8 1129.6,1059.3 1136.8,1052.8" fill="#000"/>
<path d="M1686.3,985.8 C1698.1,985.8 1707.7,1033.6 1707.7,1084" fill="none" stroke="#000" stroke-width="3.0"/>
<polygon points="1707.7,1092.0 1700.5,1073.0 1707.7,1079.5 1714.9,1073.0" fill="#000"/>
<path d="M2301.6,982 C2330.8,982 2354.7,1031.0 2354.7,1082.8" fill="none" stroke="#000" stroke-width="3.0"/>
<polygon points="2354.7,1090.8 2347.5,1071.8 2354.7,1078.3 2361.9,1071.8" fill="#000"/>
<path d="M760.8,1436 C799.7,1436 831.6,1466.1 831.6,1494.8" fill="none" stroke="#000" stroke-width="3.0"/>
<polygon points="831.6,1502.8 824.4,1483.8 831.6,1490.3 838.8,1483.8" fill="#000"/>
<path d="M832,1558.1 C832,1585.4 783.4,1607.7 731.9,1607.7" fill="none" stroke="#000" stroke-width="3.0"/>
<polygon points="723.9,1607.7 742.9,1600.5 736.4,1607.7 742.9,1614.9" fill="#000"/>
<path d="M1394.3,1440.2 C1433.6,1440.2 1465.8,1471.8 1465.8,1502.4" fill="none" stroke="#000" stroke-width="3.0"/>
<polygon points="1465.8,1510.4 1458.6,1491.4 1465.8,1497.9 1473.0,1491.4" fill="#000"/>
<path d="M1465.8,1565.4 C1465.8,1593.4 1434.0,1616.3 1403.1,1616.3" fill="none" stroke="#000" stroke-width="3.0"/>
<polygon points="1395.1,1616.3 1414.1,1609.1 1407.6,1616.3 1414.1,1623.5" fill="#000"/>
<path d="M1966.4,1438.3 C2012.8,1438.3 2050.8,1470.7 2050.8,1502.4" fill="none" stroke="#000" stroke-width="3.0"/>
<polygon points="2050.8,1510.4 2043.6,1491.4 2050.8,1497.9 2058.0,1491.4" fill="#000"/>
<path d="M2050.8,1565.8 C2050.8,1594.0 2002.9,1617 1952.4,1617" fill="none" stroke="#000" stroke-width="3.0"/>
<polygon points="1944.4,1617.0 1963.4,1609.8 1956.9,1617.0 1963.4,1624.2" fill="#000"/>
<path d="M2637.8,1440.4 C2703.7,1440.4 2757.7,1471.9 2757.7,1502.4" fill="none" stroke="#000" stroke-width="3.0"/>
<polygon points="2757.7,1510.4 2750.5,1491.4 2757.7,1497.9 2764.9,1491.4" fill="#000"/>
<path d="M2757.7,1565.8 C2757.7,1589.0 2704.2,1607.9 2646.8,1607.9" fill="none" stroke="#000" stroke-width="3.0"/>
<polygon points="2638.8,1607.9 2657.8,1600.7 2651.3,1607.9 2657.8,1615.1" fill="#000"/>
<path d="M1128.9,1127.0 C1133.1,1128.9 1145.8,1133.4 1154.1,1138.2 C1162.4,1143.0 1172.4,1148.1 1178.5,1155.7 C1184.6,1163.3 1189.6,1174.3 1190.8,1183.6 C1192.0,1192.9 1188.4,1204.0 1185.5,1211.6 C1182.6,1219.2 1177.2,1225.1 1173.3,1229.0 C1169.4,1232.9 1163.9,1234.0 1162.0,1235.0" fill="none" stroke="#000" stroke-width="3.0"/>
<polygon points="1154.3,1237.8 1169.7,1224.5 1166.0,1233.5 1174.6,1238.1" fill="#000"/>
<path d="M1707.6,1147.6 C1707.1,1154.7 1707.0,1177.8 1704.8,1190.4 C1702.6,1203.0 1697.9,1214.6 1694.6,1223.0 C1691.3,1231.4 1686.6,1238.0 1685.0,1241.0" fill="none" stroke="#000" stroke-width="3.0"/>
<polygon points="1680.8,1247.3 1685.1,1227.4 1687.6,1236.8 1697.2,1235.3" fill="#000"/>
<path d="M2353.8,1146.6 C2355.7,1148.8 2358.0,1155.0 2365.4,1160.0 C2372.8,1165.0 2389.1,1169.9 2398.0,1176.5 C2406.9,1183.1 2416.7,1192.0 2419.0,1199.8 C2421.3,1207.5 2416.3,1216.4 2412.0,1223.0 C2407.7,1229.6 2398.9,1236.0 2393.4,1239.3 C2387.9,1242.6 2381.4,1242.4 2379.0,1243.0" fill="none" stroke="#000" stroke-width="3.0"/>
<polygon points="2371.0,1244.2 2388.8,1234.4 2383.4,1242.5 2390.8,1248.7" fill="#000"/>
</svg></body></html>
